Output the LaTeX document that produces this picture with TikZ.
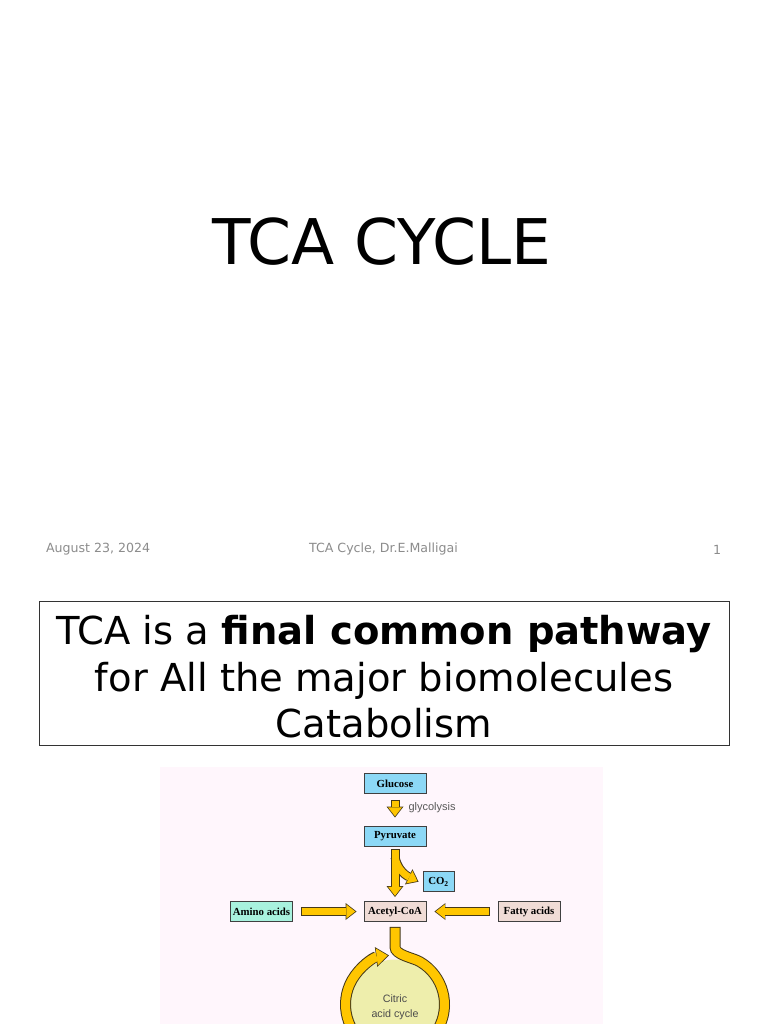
\documentclass[tikz,border=0pt]{standalone}
\usepackage{fontspec}
\setmainfont{DejaVu Sans}
\newfontfamily\labfont{Liberation Sans}
\newfontfamily\boxfont{Liberation Serif}
\usetikzlibrary{arrows.meta,positioning}

\definecolor{flowyellow}{RGB}{255,198,0}
\definecolor{flowedge}{RGB}{70,58,25}
\definecolor{sugarblue}{RGB}{140,216,246}
\definecolor{aminogreen}{RGB}{168,242,222}
\definecolor{acylpink}{RGB}{240,220,214}
\definecolor{cyclefill}{RGB}{238,238,172}
\definecolor{panelbg}{RGB}{255,246,252}
\definecolor{footgray}{RGB}{140,140,140}

\tikzset{
  metab/.style={draw=black!75, line width=0.9pt, inner sep=0pt, minimum width=62pt, minimum height=20pt,
    font=\boxfont\bfseries\fontsize{10.8}{12}\selectfont},
  flowout/.style={line width=9pt, draw=flowedge, -{Triangle[width=17pt,length=11pt,line width=0pt]}},
  flowin/.style={line width=7pt, draw=flowyellow, -{Triangle[width=14pt,length=9pt,line width=0pt]},
    shorten >=1.3pt, shorten <=1pt},
  cycleout/.style={line width=11pt, draw=flowedge, -{Triangle[width=20pt,length=13pt,line width=0pt]}},
  cyclein/.style={line width=9pt, draw=flowyellow, -{Triangle[width=17pt,length=11pt,line width=0pt]},
    shorten >=1.3pt, shorten <=1pt},
  footer/.style={text=footgray, font=\fontsize{12.6}{14}\selectfont},
}

\begin{document}
\begin{tikzpicture}[x=1pt,y=1pt]
\clip (0,0) rectangle (768,-1024);
\fill[white] (0,0) rectangle (768,-1024);

% first slide
\node (title) at (382,-242) {\fontsize{63}{70}\selectfont TCA CYCLE};
\node[footer, anchor=west] (date) at (42.5,-549.5) {August 23, 2024};
\node[footer] (footnote) at (383.5,-549.5) {TCA Cycle, Dr.E.Malligai};
\node[footer] (pageno) at (717,-549.5) {1};

% second slide
\node[draw=black!80, line width=0.8pt, minimum width=690pt, minimum height=144pt] (claimbox) at (384,-673) {};
\node[align=center, inner sep=0pt, font=\fontsize{38.5}{46.5}\selectfont] (claim) at (384,-677)
  {TCA is a \textbf{final common pathway}\\for All the major biomolecules\\Catabolism};

\fill[panelbg] (160,-767) rectangle (603,-1030);

\node[metab, fill=sugarblue] (glucose) at (395,-783.5) {Glucose};
\node[metab, fill=sugarblue] (pyruvate) at (395,-836) {Pyruvate};
\node[metab, fill=sugarblue, minimum width=31pt] (co2) at (438.5,-881.7) {CO\textsubscript{2}};
\node[metab, fill=acylpink] (acetyl) at (395,-911.5) {Acetyl-CoA};
\node[metab, fill=aminogreen] (amino) at (261.5,-911.5) {Amino acids};
\node[metab, fill=acylpink] (fatty) at (529,-911.5) {Fatty acids};
\node[anchor=west, text=black!65, font=\labfont\fontsize{11}{12}\selectfont] (glyco) at (405,-808) {glycolysis};

\coordinate (cyc) at (395,-1004.5);
\coordinate (cycin) at ([shift={(60:49.5)}]cyc);
\fill[cyclefill] (cyc) circle (45);
\node[align=center, text=black!70, font=\labfont\fontsize{10.7}{15}\selectfont] (citric) at (395,-1007.5) {Citric\\acid cycle};

% yellow flows
\draw[flowout] ([yshift=-6pt]glucose.south) -- ([yshift=8pt]pyruvate.north);
\draw[flowin] ([yshift=-6pt]glucose.south) -- ([yshift=8pt]pyruvate.north);

\coordinate (fork) at (395,-857);
\draw[flowout] (fork) .. controls (397,-867) and (403,-874) .. ([xshift=-4pt]co2.west);
\draw[flowout] ([yshift=-3pt]pyruvate.south) -- ([yshift=4pt]acetyl.north);
\draw[flowin] (fork) .. controls (397,-867) and (403,-874) .. ([xshift=-4pt]co2.west);
\draw[flowin] ([yshift=-3pt]pyruvate.south) -- ([yshift=4pt]acetyl.north);

\draw[flowout] ([xshift=8pt]amino.east) -- ([xshift=-7pt]acetyl.west);
\draw[flowin] ([xshift=8pt]amino.east) -- ([xshift=-7pt]acetyl.west);
\draw[flowout] ([xshift=-8pt]fatty.west) -- ([xshift=8pt]acetyl.east);
\draw[flowin] ([xshift=-8pt]fatty.west) -- ([xshift=8pt]acetyl.east);

\draw[cycleout] ([yshift=-5pt]acetyl.south) -- ++(0,-20) .. controls +(0,-8) and +(-7,4) .. (cycin)
  arc[start angle=60, end angle=-263, radius=49.5];
\draw[cyclein] ([yshift=-5pt]acetyl.south) -- ++(0,-20) .. controls +(0,-8) and +(-7,4) .. (cycin)
  arc[start angle=60, end angle=-263, radius=49.5];

\end{tikzpicture}
\end{document}
